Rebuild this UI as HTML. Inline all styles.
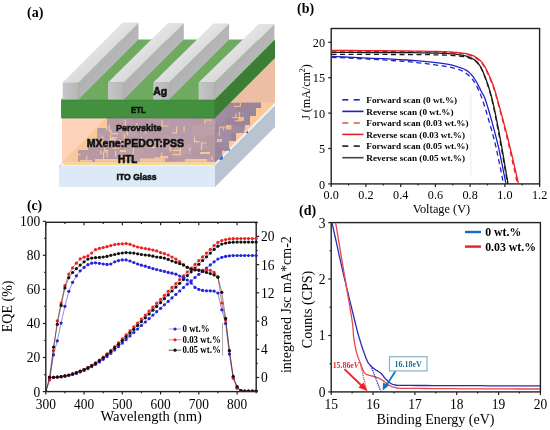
<!DOCTYPE html>
<html><head><meta charset="utf-8"><style>
html,body{margin:0;padding:0;background:#fff;}
svg{display:block;}
</style></head><body>
<svg width="550" height="430" viewBox="0 0 550 430">
<rect width="550" height="430" fill="#fff"/>
<polygon points="59.0,166.0 215.0,166.0 275.0,106.0 119.0,106.0" fill="#eef2f6" />
<polygon points="59.0,166.0 215.0,166.0 215.0,187.0 59.0,187.0" fill="#dce9f6" />
<line x1="59" y1="166.6" x2="64.5" y2="161.6" stroke="#777" stroke-width="0.6" stroke-dasharray="1 0.8"/>
<polygon points="215.0,165.0 275.0,105.0 275.0,127.0 215.0,187.0" fill="#b9c3d1" />
<polygon points="64.0,162.4 215.0,162.4 215.0,165.0 64.0,165.0" fill="#f4dc92" />
<polygon points="215.0,163.8 275.0,103.8 275.0,105.5 215.0,165.5" fill="#f2f2ee" />
<polygon points="62.0,118.0 215.0,118.0 275.0,58.0 275.0,102.5 215.0,162.5 62.0,162.5" fill="#fdd3bb" />
<polygon points="62.0,162.5 215.0,162.5 275.0,102.5 122.0,102.5" fill="#f8c999" />
<clipPath id="flkF"><polygon points="78.0,161.8 215.0,161.8 215.0,118.0 107.0,118.0 107.0,128.0 97.5,128.0 97.5,139.0 88.0,139.0 88.0,150.0 78.0,150.0"/></clipPath>
<g clip-path="url(#flkF)">
<rect x="60" y="95" width="230" height="75" fill="#b89ba8"/>
<rect x="162.2" y="147.6" width="20.4" height="12.8" fill="#ba9ca7"/>
<rect x="192.6" y="149.2" width="16.0" height="9.2" fill="#b497a3"/>
<rect x="90.8" y="134.5" width="16.0" height="11.2" fill="#b497a3"/>
<rect x="76.8" y="122.4" width="16.2" height="12.7" fill="#b698a4"/>
<rect x="97.3" y="150.3" width="15.1" height="11.5" fill="#b497a3"/>
<rect x="93.5" y="158.7" width="14.0" height="12.1" fill="#b497a3"/>
<rect x="197.1" y="125.9" width="21.7" height="11.2" fill="#b497a3"/>
<rect x="100.4" y="158.5" width="15.6" height="12.9" fill="#b698a4"/>
<rect x="116.8" y="129.3" width="15.3" height="9.6" fill="#ba9ca7"/>
<rect x="121.5" y="151.2" width="18.7" height="11.4" fill="#bd9fa9"/>
<rect x="84.2" y="129.1" width="16.4" height="11.8" fill="#b497a3"/>
<rect x="142.4" y="145.8" width="14.5" height="12.9" fill="#ba9ca7"/>
<rect x="207.9" y="129.2" width="17.2" height="11.2" fill="#b698a4"/>
<rect x="126.3" y="139.8" width="14.1" height="9.2" fill="#b497a3"/>
<rect x="162.3" y="157.8" width="15.0" height="10.0" fill="#b698a4"/>
<rect x="123.2" y="129.0" width="18.2" height="12.1" fill="#ba9ca7"/>
<rect x="157.6" y="149.5" width="16.9" height="10.2" fill="#b698a4"/>
<rect x="207.4" y="116.4" width="16.7" height="11.4" fill="#b497a3"/>
<rect x="122.6" y="156.4" width="18.4" height="10.2" fill="#bd9fa9"/>
<rect x="117.9" y="150.3" width="19.0" height="11.9" fill="#bd9fa9"/>
<rect x="214.5" y="119.8" width="14.4" height="12.9" fill="#b698a4"/>
<rect x="79.5" y="147.5" width="16.8" height="10.0" fill="#b698a4"/>
<rect x="95.4" y="159.0" width="19.1" height="12.2" fill="#bd9fa9"/>
<rect x="192.4" y="118.3" width="19.9" height="12.8" fill="#b698a4"/>
<rect x="89.9" y="132.9" width="15.2" height="12.4" fill="#bd9fa9"/>
<rect x="94.8" y="156.3" width="19.0" height="9.7" fill="#b698a4"/>
<rect x="209.4" y="145.1" width="16.5" height="10.1" fill="#b698a4"/>
<rect x="131.5" y="119.0" width="17.0" height="13.0" fill="#b497a3"/>
<rect x="162.8" y="136.0" width="16.7" height="9.4" fill="#bd9fa9"/>
<rect x="147.1" y="138.3" width="18.0" height="9.3" fill="#bd9fa9"/>
<rect x="172.2" y="143.9" width="20.1" height="10.5" fill="#bd9fa9"/>
<rect x="191.9" y="124.7" width="21.8" height="11.9" fill="#bd9fa9"/>
<rect x="166.0" y="139.9" width="14.1" height="11.2" fill="#bd9fa9"/>
<rect x="120.6" y="125.1" width="16.3" height="11.0" fill="#bd9fa9"/>
<rect x="123.7" y="142.9" width="19.9" height="12.3" fill="#bd9fa9"/>
<rect x="204.1" y="120.3" width="20.9" height="10.8" fill="#bd9fa9"/>
<rect x="208.9" y="136.9" width="18.2" height="9.7" fill="#bd9fa9"/>
<rect x="206.2" y="134.9" width="19.5" height="11.9" fill="#b698a4"/>
<rect x="99.1" y="149.5" width="18.6" height="11.7" fill="#b698a4"/>
<rect x="117.4" y="138.6" width="20.9" height="10.1" fill="#ba9ca7"/>
<rect x="95.0" y="159.0" width="30.0" height="3.0" fill="#f3c896"/>
<rect x="140.0" y="158.5" width="25.0" height="3.5" fill="#f3c896"/>
<rect x="185.0" y="159.0" width="22.0" height="3.0" fill="#f3c896"/>
<rect x="80.0" y="160.0" width="12.0" height="2.0" fill="#f3c896"/>
<rect x="120.0" y="150.0" width="6.0" height="2.0" fill="#f3c896"/>
<rect x="160.0" y="156.0" width="8.0" height="2.5" fill="#f3c896"/>
<rect x="200.0" y="152.0" width="10.0" height="2.0" fill="#f3c896"/>
<path d="M102.4,140.1 v-3.7" fill="none" stroke="#f3c896" stroke-width="1.2"/>
<path d="M212.2,120.0 h-7.5 v3.4" fill="none" stroke="#f3c896" stroke-width="1.2"/>
<path d="M80.0,134.3 v-5.4" fill="none" stroke="#f3c896" stroke-width="1.2"/>
<path d="M127.4,128.8 v6.4" fill="none" stroke="#f3c896" stroke-width="1.2"/>
<path d="M152.0,126.5 v5.1" fill="none" stroke="#f3c896" stroke-width="1.2"/>
<path d="M133.7,151.0 v-4.5" fill="none" stroke="#f3c896" stroke-width="1.2"/>
<path d="M153.9,157.9 h7.8 v-5.4" fill="none" stroke="#f3c896" stroke-width="1.2"/>
<path d="M120.6,156.0 h5.7 v4.3" fill="none" stroke="#f3c896" stroke-width="1.2"/>
<path d="M106.7,126.0 v4.5" fill="none" stroke="#f3c896" stroke-width="1.2"/>
<path d="M117.1,124.1 v6.8" fill="none" stroke="#f3c896" stroke-width="1.2"/>
<path d="M95.1,113.1 h-6.3 v6.8" fill="none" stroke="#f3c896" stroke-width="1.2"/>
<path d="M94.1,130.8 v5.2" fill="none" stroke="#f3c896" stroke-width="1.2"/>
<path d="M109.4,124.8 v7.0" fill="none" stroke="#f3c896" stroke-width="1.2"/>
<path d="M141.4,143.0 v-6.0" fill="none" stroke="#f3c896" stroke-width="1.2"/>
<path d="M117.1,137.6 h-4.7 v4.2" fill="none" stroke="#f3c896" stroke-width="1.2"/>
<path d="M170.4,151.0 v-3.0" fill="none" stroke="#f3c896" stroke-width="1.2"/>
<path d="M151.4,112.7 h6.9 v4.7" fill="none" stroke="#f3c896" stroke-width="1.2"/>
<path d="M170.5,146.5 v4.9" fill="none" stroke="#f3c896" stroke-width="1.2"/>
<path d="M172.2,132.8 h4.4 v-6.1" fill="none" stroke="#f3c896" stroke-width="1.2"/>
<path d="M172.3,154.7 h7.9 v-5.2" fill="none" stroke="#f3c896" stroke-width="1.2"/>
<path d="M107.2,151.3 v5.7" fill="none" stroke="#f3c896" stroke-width="1.2"/>
<path d="M212.0,159.9 v-3.2" fill="none" stroke="#f3c896" stroke-width="1.2"/>
<path d="M190.4,117.3 h7.5 v-7.0" fill="none" stroke="#f3c896" stroke-width="1.2"/>
<path d="M100.9,150.5 v3.9" fill="none" stroke="#f3c896" stroke-width="1.2"/>
<path d="M114.2,139.4 h-3.6 v-4.6" fill="none" stroke="#f3c896" stroke-width="1.2"/>
<path d="M119.0,140.8 h5.4 v-6.8" fill="none" stroke="#f3c896" stroke-width="1.2"/>
<path d="M116.3,139.3 h-6.4 v4.2" fill="none" stroke="#f3c896" stroke-width="1.2"/>
<path d="M108.0,152.0 h-4.4 v6.9" fill="none" stroke="#f3c896" stroke-width="1.2"/>
<path d="M129.4,118.3 v-4.4" fill="none" stroke="#f3c896" stroke-width="1.2"/>
<path d="M145.9,133.8 v-4.9" fill="none" stroke="#f3c896" stroke-width="1.2"/>
<path d="M79.1,146.8 v-3.6" fill="none" stroke="#f3c896" stroke-width="1.2"/>
<path d="M86.7,155.7 v3.8" fill="none" stroke="#f3c896" stroke-width="1.2"/>
<path d="M115.6,156.7 v-6.2" fill="none" stroke="#f3c896" stroke-width="1.2"/>
<path d="M125.2,126.2 v-6.8" fill="none" stroke="#f3c896" stroke-width="1.2"/>
<path d="M155.3,147.5 h-5.0 v-3.4" fill="none" stroke="#f3c896" stroke-width="1.2"/>
<path d="M80.5,154.7 h-5.4 v6.0" fill="none" stroke="#f3c896" stroke-width="1.2"/>
<path d="M199.6,141.7 h-5.1 v-4.9" fill="none" stroke="#f3c896" stroke-width="1.2"/>
<path d="M97.3,130.0 h-4.9 v6.5" fill="none" stroke="#f3c896" stroke-width="1.2"/>
<path d="M189.6,148.0 v3.1" fill="none" stroke="#f3c896" stroke-width="1.2"/>
<path d="M126.7,157.0 h6.4 v-5.7" fill="none" stroke="#f3c896" stroke-width="1.2"/>
<path d="M168.6,126.0 h-6.4 v-5.9" fill="none" stroke="#f3c896" stroke-width="1.2"/>
<path d="M78.5,123.1 h3.4 v4.6" fill="none" stroke="#f3c896" stroke-width="1.2"/>
<path d="M125.6,115.2 v-4.9" fill="none" stroke="#f3c896" stroke-width="1.2"/>
<path d="M206.7,143.0 h-5.2 v6.9" fill="none" stroke="#f3c896" stroke-width="1.2"/>
<path d="M184.1,131.7 v-5.2" fill="none" stroke="#f3c896" stroke-width="1.2"/>
<path d="M108.2,150.6 h-3.5 v-4.9" fill="none" stroke="#f3c896" stroke-width="1.2"/>
<path d="M184.4,114.3 v-4.8" fill="none" stroke="#f3c896" stroke-width="1.2"/>
<path d="M102.2,145.4 v-3.8" fill="none" stroke="#f3c896" stroke-width="1.2"/>
<path d="M185.7,116.2 v-3.6" fill="none" stroke="#f3c896" stroke-width="1.2"/>
<path d="M136.8,129.2 v-6.1" fill="none" stroke="#f3c896" stroke-width="1.2"/>
<path d="M118.1,133.6 h-7.1 v-3.9" fill="none" stroke="#f3c896" stroke-width="1.2"/>
<path d="M87.3,149.1 h-7.1 v-4.3" fill="none" stroke="#f3c896" stroke-width="1.2"/>
<path d="M172.6,150.3 h7.8 v-5.7" fill="none" stroke="#f3c896" stroke-width="1.2"/>
<path d="M109.8,145.8 h-7.0 v-6.5" fill="none" stroke="#f3c896" stroke-width="1.2"/>
<path d="M119.0,148.1 h-5.8 v-6.6" fill="none" stroke="#f3c896" stroke-width="1.2"/>
</g>
<clipPath id="sfc"><polygon points="215.0,118.0 275.0,58.0 275.0,102.5 215.0,162.5"/></clipPath>
<g clip-path="url(#sfc)">
<clipPath id="flkS"><polygon points="213.0,165.0 222.0,165.0 222.0,150.5 229.0,150.5 229.0,141.0 236.0,141.0 236.0,133.0 245.0,133.0 245.0,125.0 250.0,125.0 250.0,116.0 256.0,116.0 256.0,108.0 261.0,108.0 261.0,102.5 230.0,102.5 213.0,102.5"/></clipPath>
<g clip-path="url(#flkS)">
<rect x="60" y="95" width="230" height="75" fill="#9d889f"/>
<rect x="231.4" y="121.1" width="15.1" height="12.5" fill="#a08aa2"/>
<rect x="224.3" y="126.8" width="18.8" height="10.3" fill="#a08aa2"/>
<rect x="246.5" y="108.5" width="21.6" height="12.8" fill="#9a859d"/>
<rect x="214.0" y="112.8" width="14.9" height="11.0" fill="#a08aa2"/>
<rect x="249.1" y="121.8" width="20.0" height="9.4" fill="#a38da4"/>
<rect x="216.7" y="111.9" width="20.3" height="12.6" fill="#a38da4"/>
<rect x="256.9" y="122.6" width="16.7" height="9.2" fill="#a08aa2"/>
<rect x="255.1" y="101.4" width="17.0" height="11.0" fill="#a08aa2"/>
<rect x="218.5" y="143.6" width="20.8" height="12.9" fill="#a08aa2"/>
<rect x="211.9" y="133.9" width="21.2" height="9.8" fill="#a08aa2"/>
<rect x="255.9" y="106.3" width="21.3" height="11.0" fill="#9a859d"/>
<rect x="235.6" y="110.3" width="14.6" height="9.8" fill="#a08aa2"/>
<rect x="244.9" y="107.0" width="21.5" height="11.9" fill="#a08aa2"/>
<rect x="208.1" y="132.4" width="18.9" height="9.6" fill="#a38da4"/>
<rect x="247.0" y="133.7" width="14.3" height="12.5" fill="#9a859d"/>
<rect x="259.2" y="112.7" width="18.9" height="9.2" fill="#a38da4"/>
<rect x="253.2" y="130.4" width="18.5" height="11.8" fill="#a38da4"/>
<rect x="211.3" y="152.7" width="16.9" height="9.8" fill="#98839b"/>
<rect x="261.2" y="133.6" width="14.1" height="12.2" fill="#a38da4"/>
<rect x="205.0" y="104.9" width="15.8" height="10.1" fill="#a08aa2"/>
<rect x="222.5" y="115.7" width="18.1" height="9.2" fill="#9a859d"/>
<rect x="249.5" y="148.1" width="18.0" height="11.8" fill="#98839b"/>
<rect x="237.3" y="102.1" width="19.2" height="9.4" fill="#9a859d"/>
<rect x="234.1" y="157.3" width="18.5" height="9.6" fill="#a38da4"/>
<rect x="214.8" y="150.3" width="16.1" height="9.2" fill="#98839b"/>
<rect x="220.0" y="108.2" width="15.0" height="9.6" fill="#a08aa2"/>
<rect x="208.5" y="110.9" width="17.1" height="11.4" fill="#a38da4"/>
<rect x="221.2" y="127.8" width="16.2" height="12.8" fill="#a38da4"/>
<rect x="244.7" y="102.1" width="17.6" height="11.8" fill="#9a859d"/>
<rect x="238.5" y="147.8" width="19.3" height="10.1" fill="#9a859d"/>
<rect x="224.9" y="155.2" width="16.2" height="9.5" fill="#a08aa2"/>
<rect x="214.2" y="147.0" width="20.9" height="9.8" fill="#9a859d"/>
<rect x="231.0" y="132.7" width="17.1" height="9.7" fill="#9a859d"/>
<rect x="238.8" y="114.3" width="14.5" height="11.6" fill="#9a859d"/>
<rect x="236.0" y="130.5" width="18.3" height="12.6" fill="#a08aa2"/>
<rect x="255.0" y="133.6" width="21.6" height="9.3" fill="#98839b"/>
<rect x="246.1" y="104.4" width="19.6" height="10.8" fill="#9a859d"/>
<rect x="255.7" y="143.1" width="19.4" height="9.1" fill="#98839b"/>
<rect x="255.1" y="112.3" width="20.6" height="11.9" fill="#9a859d"/>
<rect x="254.9" y="100.2" width="18.8" height="11.5" fill="#9a859d"/>
<rect x="225.8" y="125.0" width="5.6" height="4.6" fill="#eebb84"/>
<rect x="238.0" y="117.0" width="6.0" height="4.0" fill="#eebb84"/>
<rect x="217.0" y="139.0" width="5.0" height="3.0" fill="#eebb84"/>
<path d="M228.2,102.3 h-3.9 v-5.4" fill="none" stroke="#eebb84" stroke-width="1.2"/>
<path d="M225.2,127.2 h-5.7 v3.1" fill="none" stroke="#eebb84" stroke-width="1.2"/>
<path d="M223.3,126.8 v3.6" fill="none" stroke="#eebb84" stroke-width="1.2"/>
<path d="M211.1,119.6 h-4.2 v-6.1" fill="none" stroke="#eebb84" stroke-width="1.2"/>
<path d="M208.0,102.6 h-6.2 v-3.3" fill="none" stroke="#eebb84" stroke-width="1.2"/>
<path d="M234.8,120.9 h6.2 v-3.9" fill="none" stroke="#eebb84" stroke-width="1.2"/>
<path d="M219.4,135.9 v-5.1" fill="none" stroke="#eebb84" stroke-width="1.2"/>
<path d="M232.1,117.5 h7.4 v-5.6" fill="none" stroke="#eebb84" stroke-width="1.2"/>
<path d="M250.6,158.5 v6.6" fill="none" stroke="#eebb84" stroke-width="1.2"/>
<path d="M210.4,117.7 v5.4" fill="none" stroke="#eebb84" stroke-width="1.2"/>
<path d="M255.9,124.7 h3.4 v4.2" fill="none" stroke="#eebb84" stroke-width="1.2"/>
<path d="M215.6,122.9 h-4.6 v-3.7" fill="none" stroke="#eebb84" stroke-width="1.2"/>
<path d="M225.8,153.6 h7.7 v3.3" fill="none" stroke="#eebb84" stroke-width="1.2"/>
<path d="M235.9,118.8 v-5.2" fill="none" stroke="#eebb84" stroke-width="1.2"/>
<path d="M223.5,149.7 v3.4" fill="none" stroke="#eebb84" stroke-width="1.2"/>
<path d="M216.7,111.9 h-7.9 v-4.3" fill="none" stroke="#eebb84" stroke-width="1.2"/>
<path d="M244.5,129.6 v4.6" fill="none" stroke="#eebb84" stroke-width="1.2"/>
<path d="M233.9,106.4 h6.5 v-4.4" fill="none" stroke="#eebb84" stroke-width="1.2"/>
</g>
</g>
<polygon points="215.0,118.0 275.0,58.0 275.0,102.5 230.5,102.5" fill="#ecbfa4" />
<polygon points="218.6,159.6 222.8,155.2 222.6,159.8" fill="#1a64c8"/>
<polygon points="227.4,150.6 229.8,148.2 229.8,150.8" fill="#1a64c8"/>
<polygon points="245.5,133 247.9,130.6 247.9,133.2" fill="#1a64c8"/>
<polygon points="61.5,99.5 215.0,99.5 275.0,39.5 121.5,39.5" fill="#6eab60" />
<polygon points="61.5,99.8 215.0,99.8 215.0,118.0 61.5,118.0" fill="#43903f" stroke="#34783a" stroke-width="0.7"/>
<polygon points="215.0,99.5 275.0,39.5 275.0,58.0 215.0,118.0" fill="#3a7d33" />
<linearGradient id="gtop" x1="0" y1="0" x2="1" y2="1"><stop offset="0.2" stop-color="#f0f0f0"/><stop offset="0.8" stop-color="#cdcdcd"/></linearGradient>
<linearGradient id="gside" x1="0" y1="0" x2="1" y2="1"><stop offset="0.2" stop-color="#a9a9a9"/><stop offset="0.8" stop-color="#c0c0c0"/></linearGradient>
<linearGradient id="gfront" x1="0" y1="0" x2="1" y2="0"><stop offset="0" stop-color="#c6c6c6"/><stop offset="1" stop-color="#b6b6b6"/></linearGradient>
<polygon points="78.5,82.4 138.5,22.4 138.5,39.5 78.5,99.5" fill="url(#gside)" />
<polygon points="62.7,82.4 78.5,82.4 138.5,22.4 122.7,22.4" fill="url(#gtop)" />
<polygon points="62.7,82.4 78.5,82.4 78.5,99.5 62.7,99.5" fill="url(#gfront)" />
<polygon points="123.8,82.4 183.8,23.0 183.8,39.5 123.8,99.5" fill="url(#gside)" />
<polygon points="108.0,82.4 123.8,82.4 183.8,23.0 168.0,23.0" fill="url(#gtop)" />
<polygon points="108.0,82.4 123.8,82.4 123.8,99.5 108.0,99.5" fill="url(#gfront)" />
<polygon points="169.1,82.4 229.1,23.5 229.1,39.5 169.1,99.5" fill="url(#gside)" />
<polygon points="153.3,82.4 169.1,82.4 229.1,23.5 213.3,23.5" fill="url(#gtop)" />
<polygon points="153.3,82.4 169.1,82.4 169.1,99.5 153.3,99.5" fill="url(#gfront)" />
<polygon points="214.4,82.4 274.4,24.1 274.4,39.5 214.4,99.5" fill="url(#gside)" />
<polygon points="198.6,82.4 214.4,82.4 274.4,24.1 258.6,24.1" fill="url(#gtop)" />
<polygon points="198.6,82.4 214.4,82.4 214.4,99.5 198.6,99.5" fill="url(#gfront)" />
<text x="27" y="17" font-family="'Liberation Serif',serif" font-weight="bold" font-size="14">(a)</text>
<text x="153.2" y="94.5" font-family="'Liberation Sans',sans-serif" font-weight="bold" stroke="#111" stroke-width="0.55" fill="#111" font-size="11" textLength="14" lengthAdjust="spacingAndGlyphs">Ag</text>
<text x="131" y="112.7" font-family="'Liberation Sans',sans-serif" font-weight="bold" stroke="#111" stroke-width="0.6" fill="#111" font-size="9.3" textLength="14.6" lengthAdjust="spacingAndGlyphs">ETL</text>
<text x="116" y="130.5" font-family="'Liberation Sans',sans-serif" font-weight="bold" stroke="#111" stroke-width="0.55" fill="#111" font-size="9" textLength="45.5" lengthAdjust="spacingAndGlyphs">Perovskite</text>
<text x="86.7" y="147.3" font-family="'Liberation Sans',sans-serif" font-weight="bold" stroke="#111" stroke-width="0.55" fill="#111" font-size="11" textLength="97.3" lengthAdjust="spacingAndGlyphs">MXene:PEDOT:PSS</text>
<text x="118" y="163.2" font-family="'Liberation Sans',sans-serif" font-weight="bold" stroke="#111" stroke-width="0.55" fill="#111" font-size="10" textLength="19.2" lengthAdjust="spacingAndGlyphs">HTL</text>
<text x="116.6" y="180.4" font-family="'Liberation Sans',sans-serif" font-weight="bold" stroke="#111" stroke-width="0.55" fill="#111" font-size="9" textLength="40" lengthAdjust="spacingAndGlyphs">ITO Glass</text>
<rect x="331.2" y="28.5" width="208.4" height="155.4" fill="none" stroke="#222" stroke-width="1.4"/>
<line x1="331.2" y1="183.9" x2="331.2" y2="186.9" stroke="#222" stroke-width="1.2"/>
<line x1="348.6" y1="183.9" x2="348.6" y2="185.5" stroke="#222" stroke-width="1.2"/>
<line x1="365.9" y1="183.9" x2="365.9" y2="186.9" stroke="#222" stroke-width="1.2"/>
<line x1="383.3" y1="183.9" x2="383.3" y2="185.5" stroke="#222" stroke-width="1.2"/>
<line x1="400.7" y1="183.9" x2="400.7" y2="186.9" stroke="#222" stroke-width="1.2"/>
<line x1="418.0" y1="183.9" x2="418.0" y2="185.5" stroke="#222" stroke-width="1.2"/>
<line x1="435.4" y1="183.9" x2="435.4" y2="186.9" stroke="#222" stroke-width="1.2"/>
<line x1="452.8" y1="183.9" x2="452.8" y2="185.5" stroke="#222" stroke-width="1.2"/>
<line x1="470.1" y1="183.9" x2="470.1" y2="186.9" stroke="#222" stroke-width="1.2"/>
<line x1="487.5" y1="183.9" x2="487.5" y2="185.5" stroke="#222" stroke-width="1.2"/>
<line x1="504.9" y1="183.9" x2="504.9" y2="186.9" stroke="#222" stroke-width="1.2"/>
<line x1="522.2" y1="183.9" x2="522.2" y2="185.5" stroke="#222" stroke-width="1.2"/>
<line x1="539.6" y1="183.9" x2="539.6" y2="186.9" stroke="#222" stroke-width="1.2"/>
<line x1="331.2" y1="183.9" x2="328.2" y2="183.9" stroke="#222" stroke-width="1.2"/>
<line x1="331.2" y1="148.5" x2="328.2" y2="148.5" stroke="#222" stroke-width="1.2"/>
<line x1="331.2" y1="113.1" x2="328.2" y2="113.1" stroke="#222" stroke-width="1.2"/>
<line x1="331.2" y1="77.7" x2="328.2" y2="77.7" stroke="#222" stroke-width="1.2"/>
<line x1="331.2" y1="42.3" x2="328.2" y2="42.3" stroke="#222" stroke-width="1.2"/>
<text transform="translate(331.20,198.80) scale(1,1.100)" font-family="'Liberation Serif',serif" font-size="12.20" text-anchor="middle" >0.0</text>
<text transform="translate(365.93,198.80) scale(1,1.100)" font-family="'Liberation Serif',serif" font-size="12.20" text-anchor="middle" >0.2</text>
<text transform="translate(400.67,198.80) scale(1,1.100)" font-family="'Liberation Serif',serif" font-size="12.20" text-anchor="middle" >0.4</text>
<text transform="translate(435.40,198.80) scale(1,1.100)" font-family="'Liberation Serif',serif" font-size="12.20" text-anchor="middle" >0.6</text>
<text transform="translate(470.13,198.80) scale(1,1.100)" font-family="'Liberation Serif',serif" font-size="12.20" text-anchor="middle" >0.8</text>
<text transform="translate(504.87,198.80) scale(1,1.100)" font-family="'Liberation Serif',serif" font-size="12.20" text-anchor="middle" >1.0</text>
<text transform="translate(539.60,198.80) scale(1,1.100)" font-family="'Liberation Serif',serif" font-size="12.20" text-anchor="middle" >1.2</text>
<text transform="translate(325.00,188.50) scale(1,1.100)" font-family="'Liberation Serif',serif" font-size="12.20" text-anchor="end" >0</text>
<text transform="translate(325.00,153.10) scale(1,1.100)" font-family="'Liberation Serif',serif" font-size="12.20" text-anchor="end" >5</text>
<text transform="translate(325.00,117.70) scale(1,1.100)" font-family="'Liberation Serif',serif" font-size="12.20" text-anchor="end" >10</text>
<text transform="translate(325.00,82.30) scale(1,1.100)" font-family="'Liberation Serif',serif" font-size="12.20" text-anchor="end" >15</text>
<text transform="translate(325.00,46.91) scale(1,1.100)" font-family="'Liberation Serif',serif" font-size="12.20" text-anchor="end" >20</text>
<text x="441.4" y="213" font-family="'Liberation Serif',serif" font-size="12.3" text-anchor="middle">Voltage (V)</text>
<text transform="translate(309.5,92) rotate(-90)" font-family="'Liberation Serif',serif" font-size="12" text-anchor="middle">J (mA/cm<tspan dy="-4.5" font-size="8">2</tspan><tspan dy="4.5">)</tspan></text>
<text x="297" y="13.2" font-family="'Liberation Serif',serif" font-weight="bold" font-size="14">(b)</text>
<clipPath id="cb"><rect x="331.2" y="28.5" width="208.4" height="156.4"/></clipPath>
<g clip-path="url(#cb)" fill="none" stroke-width="1.3">
<path d="M331.5,50.3 L337.0,50.3 L344.4,50.4 L353.3,50.5 L363.1,50.6 L373.2,50.6 L383.1,50.7 L392.2,50.8 L400.0,50.9 L406.7,51.0 L412.9,51.1 L418.7,51.1 L424.2,51.2 L429.2,51.3 L433.8,51.4 L438.1,51.5 L442.0,51.6 L445.5,51.7 L448.4,51.9 L450.9,52.0 L453.0,52.2 L454.9,52.4 L456.6,52.5 L458.3,52.7 L460.0,52.9 L461.6,53.1 L463.1,53.2 L464.4,53.4 L465.5,53.5 L466.6,53.7 L467.7,53.9 L468.7,54.2 L469.8,54.5 L470.9,54.9 L472.0,55.3 L473.0,55.7 L474.1,56.2 L475.1,56.7 L476.0,57.3 L477.0,57.9 L477.9,58.6 L478.8,59.3 L479.6,60.0 L480.4,60.6 L481.1,61.4 L481.9,62.2 L482.7,63.3 L483.5,64.5 L484.4,65.9 L485.4,67.6 L486.4,69.6 L487.5,71.8 L488.6,74.2 L489.7,76.6 L490.7,79.1 L491.7,81.5 L492.6,83.8 L493.4,85.9 L494.0,87.7 L494.6,89.5 L495.1,91.2 L495.7,93.2 L496.3,95.5 L497.1,98.2 L498.0,101.5 L499.1,105.4 L500.3,109.9 L501.7,114.9 L503.1,120.1 L504.5,125.6 L506.0,131.1 L507.4,136.5 L508.7,141.8 L510.0,147.3 L511.4,153.2 L512.9,159.3 L514.3,165.4 L515.6,171.1 L516.8,176.3 L517.8,180.6 L518.5,183.9" stroke="#e8202a"/>
<path d="M331.5,51.0 L337.0,51.0 L344.4,51.1 L353.3,51.1 L363.1,51.2 L373.2,51.3 L383.1,51.3 L392.2,51.4 L400.0,51.5 L406.7,51.6 L412.9,51.6 L418.7,51.7 L424.2,51.8 L429.2,51.9 L433.8,52.0 L438.1,52.1 L442.0,52.2 L445.5,52.3 L448.4,52.5 L450.9,52.6 L453.0,52.8 L454.9,53.0 L456.6,53.1 L458.3,53.3 L460.0,53.5 L461.6,53.7 L463.1,53.8 L464.4,54.0 L465.5,54.2 L466.6,54.4 L467.7,54.6 L468.7,54.9 L469.8,55.2 L470.9,55.6 L472.0,56.0 L473.0,56.5 L474.1,57.0 L475.1,57.5 L476.0,58.1 L477.0,58.8 L477.9,59.5 L478.8,60.2 L479.6,60.9 L480.4,61.6 L481.1,62.4 L481.9,63.3 L482.7,64.3 L483.5,65.5 L484.4,67.0 L485.4,68.7 L486.4,70.8 L487.5,73.0 L488.6,75.3 L489.7,77.8 L490.7,80.3 L491.7,82.7 L492.6,85.0 L493.4,87.1 L494.0,89.0 L494.6,90.8 L495.2,92.7 L495.8,94.7 L496.4,97.0 L497.1,99.8 L498.0,103.0 L499.0,106.8 L500.2,111.2 L501.4,115.9 L502.7,120.9 L504.1,126.1 L505.4,131.4 L506.7,136.6 L508.0,141.8 L509.3,147.2 L510.6,153.1 L512.0,159.2 L513.4,165.3 L514.7,171.1 L515.8,176.3 L516.8,180.6 L517.5,183.9" stroke="#e8202a" stroke-dasharray="5 3.5"/>
<path d="M331.5,54.3 L337.0,54.3 L344.4,54.3 L353.3,54.3 L363.1,54.4 L373.2,54.4 L383.1,54.4 L392.2,54.5 L400.0,54.5 L406.7,54.5 L412.9,54.6 L418.7,54.6 L424.2,54.7 L429.2,54.7 L433.8,54.8 L438.1,54.9 L442.0,55.0 L445.5,55.1 L448.4,55.2 L450.9,55.4 L453.0,55.5 L454.9,55.7 L456.6,55.8 L458.3,56.0 L460.0,56.2 L461.6,56.4 L463.1,56.6 L464.4,56.7 L465.5,56.9 L466.6,57.2 L467.7,57.4 L468.7,57.8 L469.8,58.2 L470.9,58.7 L472.0,59.1 L473.0,59.6 L474.1,60.2 L475.1,60.9 L476.0,61.6 L477.0,62.5 L477.9,63.5 L478.8,64.6 L479.6,65.8 L480.4,67.0 L481.2,68.4 L482.0,69.9 L482.7,71.6 L483.5,73.5 L484.4,75.7 L485.3,78.0 L486.2,80.5 L487.1,83.2 L488.1,86.0 L489.1,89.1 L490.0,92.4 L491.0,96.0 L492.0,100.0 L493.0,104.4 L494.0,109.2 L495.1,114.4 L496.2,119.8 L497.2,125.3 L498.3,130.9 L499.3,136.4 L500.3,141.8 L501.3,147.3 L502.4,153.3 L503.4,159.4 L504.5,165.5 L505.4,171.2 L506.3,176.3 L507.0,180.7 L507.6,183.9" stroke="#1a1a1a" stroke-dasharray="5 3.5"/>
<path d="M331.5,52.4 L337.0,52.4 L344.4,52.4 L353.3,52.4 L363.1,52.5 L373.2,52.5 L383.1,52.5 L392.2,52.5 L400.0,52.6 L406.7,52.7 L412.9,52.7 L418.7,52.8 L424.2,52.9 L429.2,53.0 L433.8,53.1 L438.1,53.2 L442.0,53.3 L445.5,53.4 L448.4,53.6 L450.9,53.8 L453.0,53.9 L454.9,54.1 L456.6,54.3 L458.3,54.6 L460.0,54.8 L461.6,55.1 L463.1,55.3 L464.4,55.6 L465.5,55.8 L466.6,56.2 L467.7,56.5 L468.7,56.9 L469.8,57.4 L470.9,57.9 L472.0,58.4 L473.0,59.0 L474.1,59.6 L475.1,60.3 L476.0,61.1 L477.0,62.0 L477.9,63.0 L478.8,64.1 L479.6,65.3 L480.4,66.5 L481.2,67.9 L481.9,69.4 L482.7,71.1 L483.5,73.0 L484.4,75.2 L485.3,77.6 L486.3,80.1 L487.2,82.8 L488.2,85.8 L489.2,88.9 L490.2,92.3 L491.3,96.0 L492.3,100.0 L493.3,104.4 L494.4,109.2 L495.5,114.4 L496.6,119.8 L497.7,125.4 L498.8,130.9 L499.8,136.4 L500.8,141.8 L501.8,147.3 L502.9,153.3 L503.9,159.4 L504.9,165.5 L505.9,171.2 L506.7,176.3 L507.5,180.7 L508.0,183.9" stroke="#1a1a1a"/>
<path d="M331.5,57.3 L337.0,57.6 L344.4,57.9 L353.3,58.4 L363.1,58.8 L373.2,59.4 L383.1,59.9 L392.2,60.5 L400.0,61.0 L406.7,61.6 L412.9,62.2 L418.7,62.8 L424.2,63.4 L429.2,64.1 L433.8,64.7 L438.1,65.3 L442.0,65.9 L445.5,66.4 L448.4,66.9 L450.9,67.4 L453.0,67.9 L454.9,68.3 L456.6,68.8 L458.3,69.4 L460.0,70.0 L461.6,70.7 L463.1,71.4 L464.4,72.2 L465.6,72.9 L466.7,73.8 L467.8,74.6 L468.8,75.6 L469.8,76.5 L470.8,77.5 L471.6,78.4 L472.5,79.4 L473.2,80.4 L474.0,81.5 L474.7,82.7 L475.5,84.0 L476.3,85.5 L477.1,87.0 L477.9,88.6 L478.7,90.1 L479.4,91.8 L480.3,93.8 L481.1,96.1 L482.1,98.8 L483.2,102.0 L484.4,105.8 L485.8,110.3 L487.3,115.1 L488.8,120.3 L490.4,125.7 L491.9,131.1 L493.4,136.6 L494.7,141.8 L496.0,147.2 L497.3,153.2 L498.6,159.3 L499.8,165.3 L501.0,171.1 L502.0,176.3 L502.8,180.6 L503.5,183.9" stroke="#1f22c8" stroke-dasharray="5 3.5"/>
<path d="M331.5,56.5 L337.0,56.7 L344.4,57.0 L353.3,57.4 L363.1,57.8 L373.2,58.3 L383.1,58.7 L392.2,59.2 L400.0,59.6 L406.7,60.0 L412.9,60.5 L418.7,60.9 L424.2,61.4 L429.2,61.8 L433.8,62.3 L438.1,62.8 L442.0,63.3 L445.5,63.8 L448.4,64.3 L450.9,64.9 L453.1,65.4 L455.0,66.0 L456.8,66.5 L458.4,67.1 L460.0,67.6 L461.5,68.1 L462.8,68.5 L463.8,69.0 L464.8,69.4 L465.6,69.9 L466.4,70.4 L467.2,70.9 L468.1,71.6 L469.0,72.3 L469.9,73.1 L470.7,73.9 L471.5,74.8 L472.3,75.7 L473.1,76.7 L473.9,77.8 L474.7,79.0 L475.5,80.3 L476.4,81.7 L477.2,83.3 L478.0,84.9 L478.9,86.5 L479.7,88.1 L480.5,89.7 L481.2,91.2 L481.9,92.5 L482.4,93.4 L483.0,94.3 L483.5,95.2 L484.0,96.3 L484.7,97.7 L485.4,99.8 L486.3,102.5 L487.4,106.1 L488.7,110.3 L490.1,115.1 L491.5,120.2 L493.0,125.6 L494.5,131.1 L495.9,136.6 L497.2,141.8 L498.5,147.2 L499.8,153.1 L501.0,159.2 L502.3,165.3 L503.4,171.1 L504.5,176.3 L505.3,180.6 L506.0,183.9" stroke="#1f22c8"/>
</g>
<line x1="470.8" y1="93" x2="470.8" y2="175" stroke="#e4e4e4" stroke-width="0.8"/>
<line x1="342.3" y1="99.8" x2="348.3" y2="99.8" stroke="#1f22c8" stroke-width="1.6"/>
<line x1="353.7" y1="99.8" x2="359.8" y2="99.8" stroke="#1f22c8" stroke-width="1.6"/>
<text x="366.3" y="103.1" font-family="'Liberation Serif',serif" font-weight="bold" font-size="9.2">Forward scan (0 wt.%)</text>
<line x1="342.3" y1="111.4" x2="363.5" y2="111.4" stroke="#1f22c8" stroke-width="1.6"/>
<text x="366.3" y="114.7" font-family="'Liberation Serif',serif" font-weight="bold" font-size="9.2">Reverse scan (0 wt.%)</text>
<line x1="342.3" y1="123.0" x2="348.3" y2="123.0" stroke="#e45a5a" stroke-width="1.6"/>
<line x1="353.7" y1="123.0" x2="359.8" y2="123.0" stroke="#e45a5a" stroke-width="1.6"/>
<text x="366.3" y="126.3" font-family="'Liberation Serif',serif" font-weight="bold" font-size="9.2">Forward scan (0.03 wt.%)</text>
<line x1="342.3" y1="134.4" x2="363.5" y2="134.4" stroke="#e8202a" stroke-width="1.6"/>
<text x="366.3" y="137.7" font-family="'Liberation Serif',serif" font-weight="bold" font-size="9.2">Reverse scan (0.03 wt.%)</text>
<line x1="342.3" y1="146.1" x2="348.3" y2="146.1" stroke="#1a1a1a" stroke-width="1.6"/>
<line x1="353.7" y1="146.1" x2="359.8" y2="146.1" stroke="#1a1a1a" stroke-width="1.6"/>
<text x="366.3" y="149.4" font-family="'Liberation Serif',serif" font-weight="bold" font-size="9.2">Forward scan (0.05 wt.%)</text>
<line x1="342.3" y1="157.7" x2="363.5" y2="157.7" stroke="#444" stroke-width="1.6"/>
<text x="366.3" y="161.0" font-family="'Liberation Serif',serif" font-weight="bold" font-size="9.2">Reverse scan (0.05 wt.%)</text>
<rect x="45.8" y="222.3" width="210.4" height="169.3" fill="none" stroke="#222" stroke-width="1.4"/>
<line x1="45.8" y1="391.6" x2="45.8" y2="394.6" stroke="#222" stroke-width="1.2"/>
<line x1="45.8" y1="222.3" x2="45.8" y2="225.3" stroke="#222" stroke-width="1.2"/>
<line x1="64.9" y1="391.6" x2="64.9" y2="393.2" stroke="#222" stroke-width="1.2"/>
<line x1="64.9" y1="222.3" x2="64.9" y2="223.9" stroke="#222" stroke-width="1.2"/>
<line x1="84.1" y1="391.6" x2="84.1" y2="394.6" stroke="#222" stroke-width="1.2"/>
<line x1="84.1" y1="222.3" x2="84.1" y2="225.3" stroke="#222" stroke-width="1.2"/>
<line x1="103.2" y1="391.6" x2="103.2" y2="393.2" stroke="#222" stroke-width="1.2"/>
<line x1="103.2" y1="222.3" x2="103.2" y2="223.9" stroke="#222" stroke-width="1.2"/>
<line x1="122.3" y1="391.6" x2="122.3" y2="394.6" stroke="#222" stroke-width="1.2"/>
<line x1="122.3" y1="222.3" x2="122.3" y2="225.3" stroke="#222" stroke-width="1.2"/>
<line x1="141.4" y1="391.6" x2="141.4" y2="393.2" stroke="#222" stroke-width="1.2"/>
<line x1="141.4" y1="222.3" x2="141.4" y2="223.9" stroke="#222" stroke-width="1.2"/>
<line x1="160.6" y1="391.6" x2="160.6" y2="394.6" stroke="#222" stroke-width="1.2"/>
<line x1="160.6" y1="222.3" x2="160.6" y2="225.3" stroke="#222" stroke-width="1.2"/>
<line x1="179.7" y1="391.6" x2="179.7" y2="393.2" stroke="#222" stroke-width="1.2"/>
<line x1="179.7" y1="222.3" x2="179.7" y2="223.9" stroke="#222" stroke-width="1.2"/>
<line x1="198.8" y1="391.6" x2="198.8" y2="394.6" stroke="#222" stroke-width="1.2"/>
<line x1="198.8" y1="222.3" x2="198.8" y2="225.3" stroke="#222" stroke-width="1.2"/>
<line x1="217.9" y1="391.6" x2="217.9" y2="393.2" stroke="#222" stroke-width="1.2"/>
<line x1="217.9" y1="222.3" x2="217.9" y2="223.9" stroke="#222" stroke-width="1.2"/>
<line x1="237.1" y1="391.6" x2="237.1" y2="394.6" stroke="#222" stroke-width="1.2"/>
<line x1="237.1" y1="222.3" x2="237.1" y2="225.3" stroke="#222" stroke-width="1.2"/>
<line x1="256.2" y1="391.6" x2="256.2" y2="393.2" stroke="#222" stroke-width="1.2"/>
<line x1="256.2" y1="222.3" x2="256.2" y2="223.9" stroke="#222" stroke-width="1.2"/>
<line x1="45.8" y1="391.6" x2="42.8" y2="391.6" stroke="#222" stroke-width="1.2"/>
<line x1="45.8" y1="374.6" x2="44.2" y2="374.6" stroke="#222" stroke-width="1.2"/>
<line x1="45.8" y1="357.5" x2="42.8" y2="357.5" stroke="#222" stroke-width="1.2"/>
<line x1="45.8" y1="340.5" x2="44.2" y2="340.5" stroke="#222" stroke-width="1.2"/>
<line x1="45.8" y1="323.5" x2="42.8" y2="323.5" stroke="#222" stroke-width="1.2"/>
<line x1="45.8" y1="306.4" x2="44.2" y2="306.4" stroke="#222" stroke-width="1.2"/>
<line x1="45.8" y1="289.4" x2="42.8" y2="289.4" stroke="#222" stroke-width="1.2"/>
<line x1="45.8" y1="272.4" x2="44.2" y2="272.4" stroke="#222" stroke-width="1.2"/>
<line x1="45.8" y1="255.3" x2="42.8" y2="255.3" stroke="#222" stroke-width="1.2"/>
<line x1="45.8" y1="238.3" x2="44.2" y2="238.3" stroke="#222" stroke-width="1.2"/>
<line x1="45.8" y1="221.3" x2="42.8" y2="221.3" stroke="#222" stroke-width="1.2"/>
<line x1="256.2" y1="391.6" x2="257.8" y2="391.6" stroke="#222" stroke-width="1.2"/>
<line x1="256.2" y1="377.5" x2="259.2" y2="377.5" stroke="#222" stroke-width="1.2"/>
<line x1="256.2" y1="363.4" x2="257.8" y2="363.4" stroke="#222" stroke-width="1.2"/>
<line x1="256.2" y1="349.3" x2="259.2" y2="349.3" stroke="#222" stroke-width="1.2"/>
<line x1="256.2" y1="335.2" x2="257.8" y2="335.2" stroke="#222" stroke-width="1.2"/>
<line x1="256.2" y1="321.1" x2="259.2" y2="321.1" stroke="#222" stroke-width="1.2"/>
<line x1="256.2" y1="307.0" x2="257.8" y2="307.0" stroke="#222" stroke-width="1.2"/>
<line x1="256.2" y1="292.8" x2="259.2" y2="292.8" stroke="#222" stroke-width="1.2"/>
<line x1="256.2" y1="278.7" x2="257.8" y2="278.7" stroke="#222" stroke-width="1.2"/>
<line x1="256.2" y1="264.6" x2="259.2" y2="264.6" stroke="#222" stroke-width="1.2"/>
<line x1="256.2" y1="250.5" x2="257.8" y2="250.5" stroke="#222" stroke-width="1.2"/>
<line x1="256.2" y1="236.4" x2="259.2" y2="236.4" stroke="#222" stroke-width="1.2"/>
<line x1="256.2" y1="222.3" x2="257.8" y2="222.3" stroke="#222" stroke-width="1.2"/>
<text transform="translate(45.80,408.70) scale(1,1.120)" font-family="'Liberation Serif',serif" font-size="13.40" text-anchor="middle" >300</text>
<text transform="translate(84.05,408.70) scale(1,1.120)" font-family="'Liberation Serif',serif" font-size="13.40" text-anchor="middle" >400</text>
<text transform="translate(122.31,408.70) scale(1,1.120)" font-family="'Liberation Serif',serif" font-size="13.40" text-anchor="middle" >500</text>
<text transform="translate(160.56,408.70) scale(1,1.120)" font-family="'Liberation Serif',serif" font-size="13.40" text-anchor="middle" >600</text>
<text transform="translate(198.82,408.70) scale(1,1.120)" font-family="'Liberation Serif',serif" font-size="13.40" text-anchor="middle" >700</text>
<text transform="translate(237.07,408.70) scale(1,1.120)" font-family="'Liberation Serif',serif" font-size="13.40" text-anchor="middle" >800</text>
<text transform="translate(40.30,396.50) scale(1,1.120)" font-family="'Liberation Serif',serif" font-size="13.50" text-anchor="end" >0</text>
<text transform="translate(40.30,362.44) scale(1,1.120)" font-family="'Liberation Serif',serif" font-size="13.50" text-anchor="end" >20</text>
<text transform="translate(40.30,328.37) scale(1,1.120)" font-family="'Liberation Serif',serif" font-size="13.50" text-anchor="end" >40</text>
<text transform="translate(40.30,294.31) scale(1,1.120)" font-family="'Liberation Serif',serif" font-size="13.50" text-anchor="end" >60</text>
<text transform="translate(40.30,260.24) scale(1,1.120)" font-family="'Liberation Serif',serif" font-size="13.50" text-anchor="end" >80</text>
<text transform="translate(40.30,226.18) scale(1,1.120)" font-family="'Liberation Serif',serif" font-size="13.50" text-anchor="end" >100</text>
<text transform="translate(261.00,382.39) scale(1,1.120)" font-family="'Liberation Serif',serif" font-size="13.50" text-anchor="start" >0</text>
<text transform="translate(261.00,354.18) scale(1,1.120)" font-family="'Liberation Serif',serif" font-size="13.50" text-anchor="start" >4</text>
<text transform="translate(261.00,325.96) scale(1,1.120)" font-family="'Liberation Serif',serif" font-size="13.50" text-anchor="start" >8</text>
<text transform="translate(261.00,297.74) scale(1,1.120)" font-family="'Liberation Serif',serif" font-size="13.50" text-anchor="start" >12</text>
<text transform="translate(261.00,269.52) scale(1,1.120)" font-family="'Liberation Serif',serif" font-size="13.50" text-anchor="start" >16</text>
<text transform="translate(261.00,241.31) scale(1,1.120)" font-family="'Liberation Serif',serif" font-size="13.50" text-anchor="start" >20</text>
<text x="100.5" y="421.4" font-family="'Liberation Serif',serif" font-size="14.6">Wavelength (nm)</text>
<text transform="translate(12.2,306.4) rotate(-90)" font-family="'Liberation Serif',serif" font-size="14" text-anchor="middle">EQE (%)</text>
<text transform="translate(291,304.6) rotate(-90)" font-family="'Liberation Serif',serif" font-size="14" text-anchor="middle">integrated Jsc mA*cm-2</text>
<text x="26.9" y="209.6" font-family="'Liberation Serif',serif" font-weight="bold" font-size="13.8">(c)</text>
<clipPath id="cc"><rect x="45.8" y="222.3" width="212.4" height="169.3"/></clipPath>
<g clip-path="url(#cc)">
<path d="M49.6,377.5 L53.5,377.4 L57.3,377.1 L61.1,376.8 L64.9,376.2 L68.8,375.5 L72.6,374.5 L76.4,373.4 L80.2,372.0 L84.1,370.5 L87.9,368.7 L91.7,366.7 L95.5,364.4 L99.4,361.9 L103.2,359.3 L107.0,356.4 L110.8,353.3 L114.7,350.0 L118.5,346.6 L122.3,343.1 L126.1,339.6 L130.0,336.0 L133.8,332.5 L137.6,329.0 L141.4,325.5 L145.3,322.0 L149.1,318.6 L152.9,315.1 L156.7,311.7 L160.6,308.3 L164.4,304.8 L168.2,301.4 L172.0,297.9 L175.9,294.4 L179.7,291.0 L183.5,287.5 L187.3,284.1 L191.2,280.8 L195.0,277.5 L198.8,274.3 L202.6,271.2 L206.5,268.0 L210.3,264.9 L214.1,261.8 L217.9,259.0 L221.8,257.3 L225.6,256.4 L229.4,255.8 L233.2,255.6 L237.1,255.5 L240.9,255.5 L244.7,255.5 L248.5,255.5 L252.4,255.5 L256.2,255.5" fill="none" stroke="#3030c0" stroke-width="0.55"/>
<circle cx="49.6" cy="377.5" r="1.6" fill="#2424e0"/>
<circle cx="53.5" cy="377.4" r="1.6" fill="#2424e0"/>
<circle cx="57.3" cy="377.1" r="1.6" fill="#2424e0"/>
<circle cx="61.1" cy="376.8" r="1.6" fill="#2424e0"/>
<circle cx="64.9" cy="376.2" r="1.6" fill="#2424e0"/>
<circle cx="68.8" cy="375.5" r="1.6" fill="#2424e0"/>
<circle cx="72.6" cy="374.5" r="1.6" fill="#2424e0"/>
<circle cx="76.4" cy="373.4" r="1.6" fill="#2424e0"/>
<circle cx="80.2" cy="372.0" r="1.6" fill="#2424e0"/>
<circle cx="84.1" cy="370.5" r="1.6" fill="#2424e0"/>
<circle cx="87.9" cy="368.7" r="1.6" fill="#2424e0"/>
<circle cx="91.7" cy="366.7" r="1.6" fill="#2424e0"/>
<circle cx="95.5" cy="364.4" r="1.6" fill="#2424e0"/>
<circle cx="99.4" cy="361.9" r="1.6" fill="#2424e0"/>
<circle cx="103.2" cy="359.3" r="1.6" fill="#2424e0"/>
<circle cx="107.0" cy="356.4" r="1.6" fill="#2424e0"/>
<circle cx="110.8" cy="353.3" r="1.6" fill="#2424e0"/>
<circle cx="114.7" cy="350.0" r="1.6" fill="#2424e0"/>
<circle cx="118.5" cy="346.6" r="1.6" fill="#2424e0"/>
<circle cx="122.3" cy="343.1" r="1.6" fill="#2424e0"/>
<circle cx="126.1" cy="339.6" r="1.6" fill="#2424e0"/>
<circle cx="130.0" cy="336.0" r="1.6" fill="#2424e0"/>
<circle cx="133.8" cy="332.5" r="1.6" fill="#2424e0"/>
<circle cx="137.6" cy="329.0" r="1.6" fill="#2424e0"/>
<circle cx="141.4" cy="325.5" r="1.6" fill="#2424e0"/>
<circle cx="145.3" cy="322.0" r="1.6" fill="#2424e0"/>
<circle cx="149.1" cy="318.6" r="1.6" fill="#2424e0"/>
<circle cx="152.9" cy="315.1" r="1.6" fill="#2424e0"/>
<circle cx="156.7" cy="311.7" r="1.6" fill="#2424e0"/>
<circle cx="160.6" cy="308.3" r="1.6" fill="#2424e0"/>
<circle cx="164.4" cy="304.8" r="1.6" fill="#2424e0"/>
<circle cx="168.2" cy="301.4" r="1.6" fill="#2424e0"/>
<circle cx="172.0" cy="297.9" r="1.6" fill="#2424e0"/>
<circle cx="175.9" cy="294.4" r="1.6" fill="#2424e0"/>
<circle cx="179.7" cy="291.0" r="1.6" fill="#2424e0"/>
<circle cx="183.5" cy="287.5" r="1.6" fill="#2424e0"/>
<circle cx="187.3" cy="284.1" r="1.6" fill="#2424e0"/>
<circle cx="191.2" cy="280.8" r="1.6" fill="#2424e0"/>
<circle cx="195.0" cy="277.5" r="1.6" fill="#2424e0"/>
<circle cx="198.8" cy="274.3" r="1.6" fill="#2424e0"/>
<circle cx="202.6" cy="271.2" r="1.6" fill="#2424e0"/>
<circle cx="206.5" cy="268.0" r="1.6" fill="#2424e0"/>
<circle cx="210.3" cy="264.9" r="1.6" fill="#2424e0"/>
<circle cx="214.1" cy="261.8" r="1.6" fill="#2424e0"/>
<circle cx="217.9" cy="259.0" r="1.6" fill="#2424e0"/>
<circle cx="221.8" cy="257.3" r="1.6" fill="#2424e0"/>
<circle cx="225.6" cy="256.4" r="1.6" fill="#2424e0"/>
<circle cx="229.4" cy="255.8" r="1.6" fill="#2424e0"/>
<circle cx="233.2" cy="255.6" r="1.6" fill="#2424e0"/>
<circle cx="237.1" cy="255.5" r="1.6" fill="#2424e0"/>
<circle cx="240.9" cy="255.5" r="1.6" fill="#2424e0"/>
<circle cx="244.7" cy="255.5" r="1.6" fill="#2424e0"/>
<circle cx="248.5" cy="255.5" r="1.6" fill="#2424e0"/>
<circle cx="252.4" cy="255.5" r="1.6" fill="#2424e0"/>
<circle cx="256.2" cy="255.5" r="1.6" fill="#2424e0"/>
<path d="M49.6,377.5 L53.5,377.4 L57.3,377.1 L61.1,376.6 L64.9,375.9 L68.8,375.0 L72.6,373.9 L76.4,372.6 L80.2,371.1 L84.1,369.4 L87.9,367.5 L91.7,365.3 L95.5,362.9 L99.4,360.2 L103.2,357.2 L107.0,353.9 L110.8,350.4 L114.7,346.6 L118.5,342.8 L122.3,338.9 L126.1,334.9 L130.0,330.9 L133.8,326.9 L137.6,323.0 L141.4,319.0 L145.3,315.1 L149.1,311.1 L152.9,307.2 L156.7,303.2 L160.6,299.3 L164.4,295.3 L168.2,291.4 L172.0,287.4 L175.9,283.5 L179.7,279.6 L183.5,275.8 L187.3,272.0 L191.2,268.2 L195.0,264.4 L198.8,260.7 L202.6,256.9 L206.5,253.1 L210.3,249.4 L214.1,245.6 L217.9,242.4 L221.8,240.5 L225.6,239.5 L229.4,238.9 L233.2,238.7 L237.1,238.6 L240.9,238.5 L244.7,238.5 L248.5,238.5 L252.4,238.5 L256.2,238.5" fill="none" stroke="#a02020" stroke-width="0.55"/>
<circle cx="49.6" cy="377.5" r="1.6" fill="#ee2222"/>
<circle cx="53.5" cy="377.4" r="1.6" fill="#ee2222"/>
<circle cx="57.3" cy="377.1" r="1.6" fill="#ee2222"/>
<circle cx="61.1" cy="376.6" r="1.6" fill="#ee2222"/>
<circle cx="64.9" cy="375.9" r="1.6" fill="#ee2222"/>
<circle cx="68.8" cy="375.0" r="1.6" fill="#ee2222"/>
<circle cx="72.6" cy="373.9" r="1.6" fill="#ee2222"/>
<circle cx="76.4" cy="372.6" r="1.6" fill="#ee2222"/>
<circle cx="80.2" cy="371.1" r="1.6" fill="#ee2222"/>
<circle cx="84.1" cy="369.4" r="1.6" fill="#ee2222"/>
<circle cx="87.9" cy="367.5" r="1.6" fill="#ee2222"/>
<circle cx="91.7" cy="365.3" r="1.6" fill="#ee2222"/>
<circle cx="95.5" cy="362.9" r="1.6" fill="#ee2222"/>
<circle cx="99.4" cy="360.2" r="1.6" fill="#ee2222"/>
<circle cx="103.2" cy="357.2" r="1.6" fill="#ee2222"/>
<circle cx="107.0" cy="353.9" r="1.6" fill="#ee2222"/>
<circle cx="110.8" cy="350.4" r="1.6" fill="#ee2222"/>
<circle cx="114.7" cy="346.6" r="1.6" fill="#ee2222"/>
<circle cx="118.5" cy="342.8" r="1.6" fill="#ee2222"/>
<circle cx="122.3" cy="338.9" r="1.6" fill="#ee2222"/>
<circle cx="126.1" cy="334.9" r="1.6" fill="#ee2222"/>
<circle cx="130.0" cy="330.9" r="1.6" fill="#ee2222"/>
<circle cx="133.8" cy="326.9" r="1.6" fill="#ee2222"/>
<circle cx="137.6" cy="323.0" r="1.6" fill="#ee2222"/>
<circle cx="141.4" cy="319.0" r="1.6" fill="#ee2222"/>
<circle cx="145.3" cy="315.1" r="1.6" fill="#ee2222"/>
<circle cx="149.1" cy="311.1" r="1.6" fill="#ee2222"/>
<circle cx="152.9" cy="307.2" r="1.6" fill="#ee2222"/>
<circle cx="156.7" cy="303.2" r="1.6" fill="#ee2222"/>
<circle cx="160.6" cy="299.3" r="1.6" fill="#ee2222"/>
<circle cx="164.4" cy="295.3" r="1.6" fill="#ee2222"/>
<circle cx="168.2" cy="291.4" r="1.6" fill="#ee2222"/>
<circle cx="172.0" cy="287.4" r="1.6" fill="#ee2222"/>
<circle cx="175.9" cy="283.5" r="1.6" fill="#ee2222"/>
<circle cx="179.7" cy="279.6" r="1.6" fill="#ee2222"/>
<circle cx="183.5" cy="275.8" r="1.6" fill="#ee2222"/>
<circle cx="187.3" cy="272.0" r="1.6" fill="#ee2222"/>
<circle cx="191.2" cy="268.2" r="1.6" fill="#ee2222"/>
<circle cx="195.0" cy="264.4" r="1.6" fill="#ee2222"/>
<circle cx="198.8" cy="260.7" r="1.6" fill="#ee2222"/>
<circle cx="202.6" cy="256.9" r="1.6" fill="#ee2222"/>
<circle cx="206.5" cy="253.1" r="1.6" fill="#ee2222"/>
<circle cx="210.3" cy="249.4" r="1.6" fill="#ee2222"/>
<circle cx="214.1" cy="245.6" r="1.6" fill="#ee2222"/>
<circle cx="217.9" cy="242.4" r="1.6" fill="#ee2222"/>
<circle cx="221.8" cy="240.5" r="1.6" fill="#ee2222"/>
<circle cx="225.6" cy="239.5" r="1.6" fill="#ee2222"/>
<circle cx="229.4" cy="238.9" r="1.6" fill="#ee2222"/>
<circle cx="233.2" cy="238.7" r="1.6" fill="#ee2222"/>
<circle cx="237.1" cy="238.6" r="1.6" fill="#ee2222"/>
<circle cx="240.9" cy="238.5" r="1.6" fill="#ee2222"/>
<circle cx="244.7" cy="238.5" r="1.6" fill="#ee2222"/>
<circle cx="248.5" cy="238.5" r="1.6" fill="#ee2222"/>
<circle cx="252.4" cy="238.5" r="1.6" fill="#ee2222"/>
<circle cx="256.2" cy="238.5" r="1.6" fill="#ee2222"/>
<path d="M49.6,377.5 L53.5,377.3 L57.3,377.0 L61.1,376.6 L64.9,375.9 L68.8,375.0 L72.6,373.9 L76.4,372.7 L80.2,371.2 L84.1,369.6 L87.9,367.7 L91.7,365.6 L95.5,363.3 L99.4,360.7 L103.2,357.8 L107.0,354.8 L110.8,351.4 L114.7,347.9 L118.5,344.3 L122.3,340.6 L126.1,336.9 L130.0,333.1 L133.8,329.3 L137.6,325.5 L141.4,321.7 L145.3,317.8 L149.1,314.0 L152.9,310.2 L156.7,306.4 L160.6,302.6 L164.4,298.7 L168.2,294.9 L172.0,291.0 L175.9,287.1 L179.7,283.3 L183.5,279.5 L187.3,275.6 L191.2,271.8 L195.0,268.1 L198.8,264.3 L202.6,260.5 L206.5,256.8 L210.3,253.1 L214.1,249.4 L217.9,246.2 L221.8,244.1 L225.6,243.1 L229.4,242.5 L233.2,242.2 L237.1,242.1 L240.9,242.1 L244.7,242.1 L248.5,242.1 L252.4,242.1 L256.2,242.1" fill="none" stroke="#222222" stroke-width="0.55"/>
<circle cx="49.6" cy="377.5" r="1.6" fill="#111111"/>
<circle cx="53.5" cy="377.3" r="1.6" fill="#111111"/>
<circle cx="57.3" cy="377.0" r="1.6" fill="#111111"/>
<circle cx="61.1" cy="376.6" r="1.6" fill="#111111"/>
<circle cx="64.9" cy="375.9" r="1.6" fill="#111111"/>
<circle cx="68.8" cy="375.0" r="1.6" fill="#111111"/>
<circle cx="72.6" cy="373.9" r="1.6" fill="#111111"/>
<circle cx="76.4" cy="372.7" r="1.6" fill="#111111"/>
<circle cx="80.2" cy="371.2" r="1.6" fill="#111111"/>
<circle cx="84.1" cy="369.6" r="1.6" fill="#111111"/>
<circle cx="87.9" cy="367.7" r="1.6" fill="#111111"/>
<circle cx="91.7" cy="365.6" r="1.6" fill="#111111"/>
<circle cx="95.5" cy="363.3" r="1.6" fill="#111111"/>
<circle cx="99.4" cy="360.7" r="1.6" fill="#111111"/>
<circle cx="103.2" cy="357.8" r="1.6" fill="#111111"/>
<circle cx="107.0" cy="354.8" r="1.6" fill="#111111"/>
<circle cx="110.8" cy="351.4" r="1.6" fill="#111111"/>
<circle cx="114.7" cy="347.9" r="1.6" fill="#111111"/>
<circle cx="118.5" cy="344.3" r="1.6" fill="#111111"/>
<circle cx="122.3" cy="340.6" r="1.6" fill="#111111"/>
<circle cx="126.1" cy="336.9" r="1.6" fill="#111111"/>
<circle cx="130.0" cy="333.1" r="1.6" fill="#111111"/>
<circle cx="133.8" cy="329.3" r="1.6" fill="#111111"/>
<circle cx="137.6" cy="325.5" r="1.6" fill="#111111"/>
<circle cx="141.4" cy="321.7" r="1.6" fill="#111111"/>
<circle cx="145.3" cy="317.8" r="1.6" fill="#111111"/>
<circle cx="149.1" cy="314.0" r="1.6" fill="#111111"/>
<circle cx="152.9" cy="310.2" r="1.6" fill="#111111"/>
<circle cx="156.7" cy="306.4" r="1.6" fill="#111111"/>
<circle cx="160.6" cy="302.6" r="1.6" fill="#111111"/>
<circle cx="164.4" cy="298.7" r="1.6" fill="#111111"/>
<circle cx="168.2" cy="294.9" r="1.6" fill="#111111"/>
<circle cx="172.0" cy="291.0" r="1.6" fill="#111111"/>
<circle cx="175.9" cy="287.1" r="1.6" fill="#111111"/>
<circle cx="179.7" cy="283.3" r="1.6" fill="#111111"/>
<circle cx="183.5" cy="279.5" r="1.6" fill="#111111"/>
<circle cx="187.3" cy="275.6" r="1.6" fill="#111111"/>
<circle cx="191.2" cy="271.8" r="1.6" fill="#111111"/>
<circle cx="195.0" cy="268.1" r="1.6" fill="#111111"/>
<circle cx="198.8" cy="264.3" r="1.6" fill="#111111"/>
<circle cx="202.6" cy="260.5" r="1.6" fill="#111111"/>
<circle cx="206.5" cy="256.8" r="1.6" fill="#111111"/>
<circle cx="210.3" cy="253.1" r="1.6" fill="#111111"/>
<circle cx="214.1" cy="249.4" r="1.6" fill="#111111"/>
<circle cx="217.9" cy="246.2" r="1.6" fill="#111111"/>
<circle cx="221.8" cy="244.1" r="1.6" fill="#111111"/>
<circle cx="225.6" cy="243.1" r="1.6" fill="#111111"/>
<circle cx="229.4" cy="242.5" r="1.6" fill="#111111"/>
<circle cx="233.2" cy="242.2" r="1.6" fill="#111111"/>
<circle cx="237.1" cy="242.1" r="1.6" fill="#111111"/>
<circle cx="240.9" cy="242.1" r="1.6" fill="#111111"/>
<circle cx="244.7" cy="242.1" r="1.6" fill="#111111"/>
<circle cx="248.5" cy="242.1" r="1.6" fill="#111111"/>
<circle cx="252.4" cy="242.1" r="1.6" fill="#111111"/>
<circle cx="256.2" cy="242.1" r="1.6" fill="#111111"/>
<path d="M45.8,391.6 L49.6,379.7 L53.5,354.8 L57.3,340.8 L61.1,323.1 L64.9,306.3 L68.8,291.3 L72.6,282.3 L76.4,275.8 L80.2,270.8 L84.1,267.4 L87.9,264.7 L91.7,263.2 L95.5,262.8 L99.4,263.3 L103.2,264.0 L107.0,264.4 L110.8,264.0 L114.7,261.8 L118.5,260.6 L122.3,259.9 L126.1,259.9 L130.0,261.0 L133.8,262.5 L137.6,264.0 L141.4,265.2 L145.3,266.2 L149.1,267.4 L152.9,268.6 L156.7,269.6 L160.6,270.5 L164.4,271.4 L168.2,272.4 L172.0,273.2 L175.9,274.2 L179.7,276.0 L183.5,277.5 L187.3,280.0 L191.2,283.1 L195.0,287.4 L198.8,289.4 L202.6,290.4 L206.5,290.8 L210.3,290.8 L214.1,291.1 L217.9,293.0 L221.8,309.8 L225.6,323.5 L229.4,354.1 L233.2,378.0 L237.1,388.2 L240.9,390.7 L244.7,391.1 L248.5,391.1 L252.4,391.1 L256.2,391.1" fill="none" stroke="#3030c0" stroke-width="0.55"/>
<circle cx="45.8" cy="391.6" r="1.6" fill="#2424e0"/>
<circle cx="49.6" cy="379.7" r="1.6" fill="#2424e0"/>
<circle cx="53.5" cy="354.8" r="1.6" fill="#2424e0"/>
<circle cx="57.3" cy="340.8" r="1.6" fill="#2424e0"/>
<circle cx="61.1" cy="323.1" r="1.6" fill="#2424e0"/>
<circle cx="64.9" cy="306.3" r="1.6" fill="#2424e0"/>
<circle cx="68.8" cy="291.3" r="1.6" fill="#2424e0"/>
<circle cx="72.6" cy="282.3" r="1.6" fill="#2424e0"/>
<circle cx="76.4" cy="275.8" r="1.6" fill="#2424e0"/>
<circle cx="80.2" cy="270.8" r="1.6" fill="#2424e0"/>
<circle cx="84.1" cy="267.4" r="1.6" fill="#2424e0"/>
<circle cx="87.9" cy="264.7" r="1.6" fill="#2424e0"/>
<circle cx="91.7" cy="263.2" r="1.6" fill="#2424e0"/>
<circle cx="95.5" cy="262.8" r="1.6" fill="#2424e0"/>
<circle cx="99.4" cy="263.3" r="1.6" fill="#2424e0"/>
<circle cx="103.2" cy="264.0" r="1.6" fill="#2424e0"/>
<circle cx="107.0" cy="264.4" r="1.6" fill="#2424e0"/>
<circle cx="110.8" cy="264.0" r="1.6" fill="#2424e0"/>
<circle cx="114.7" cy="261.8" r="1.6" fill="#2424e0"/>
<circle cx="118.5" cy="260.6" r="1.6" fill="#2424e0"/>
<circle cx="122.3" cy="259.9" r="1.6" fill="#2424e0"/>
<circle cx="126.1" cy="259.9" r="1.6" fill="#2424e0"/>
<circle cx="130.0" cy="261.0" r="1.6" fill="#2424e0"/>
<circle cx="133.8" cy="262.5" r="1.6" fill="#2424e0"/>
<circle cx="137.6" cy="264.0" r="1.6" fill="#2424e0"/>
<circle cx="141.4" cy="265.2" r="1.6" fill="#2424e0"/>
<circle cx="145.3" cy="266.2" r="1.6" fill="#2424e0"/>
<circle cx="149.1" cy="267.4" r="1.6" fill="#2424e0"/>
<circle cx="152.9" cy="268.6" r="1.6" fill="#2424e0"/>
<circle cx="156.7" cy="269.6" r="1.6" fill="#2424e0"/>
<circle cx="160.6" cy="270.5" r="1.6" fill="#2424e0"/>
<circle cx="164.4" cy="271.4" r="1.6" fill="#2424e0"/>
<circle cx="168.2" cy="272.4" r="1.6" fill="#2424e0"/>
<circle cx="172.0" cy="273.2" r="1.6" fill="#2424e0"/>
<circle cx="175.9" cy="274.2" r="1.6" fill="#2424e0"/>
<circle cx="179.7" cy="276.0" r="1.6" fill="#2424e0"/>
<circle cx="183.5" cy="277.5" r="1.6" fill="#2424e0"/>
<circle cx="187.3" cy="280.0" r="1.6" fill="#2424e0"/>
<circle cx="191.2" cy="283.1" r="1.6" fill="#2424e0"/>
<circle cx="195.0" cy="287.4" r="1.6" fill="#2424e0"/>
<circle cx="198.8" cy="289.4" r="1.6" fill="#2424e0"/>
<circle cx="202.6" cy="290.4" r="1.6" fill="#2424e0"/>
<circle cx="206.5" cy="290.8" r="1.6" fill="#2424e0"/>
<circle cx="210.3" cy="290.8" r="1.6" fill="#2424e0"/>
<circle cx="214.1" cy="291.1" r="1.6" fill="#2424e0"/>
<circle cx="217.9" cy="293.0" r="1.6" fill="#2424e0"/>
<circle cx="221.8" cy="309.8" r="1.6" fill="#2424e0"/>
<circle cx="225.6" cy="323.5" r="1.6" fill="#2424e0"/>
<circle cx="229.4" cy="354.1" r="1.6" fill="#2424e0"/>
<circle cx="233.2" cy="378.0" r="1.6" fill="#2424e0"/>
<circle cx="237.1" cy="388.2" r="1.6" fill="#2424e0"/>
<circle cx="240.9" cy="390.7" r="1.6" fill="#2424e0"/>
<circle cx="244.7" cy="391.1" r="1.6" fill="#2424e0"/>
<circle cx="248.5" cy="391.1" r="1.6" fill="#2424e0"/>
<circle cx="252.4" cy="391.1" r="1.6" fill="#2424e0"/>
<circle cx="256.2" cy="391.1" r="1.6" fill="#2424e0"/>
<path d="M45.8,391.6 L49.6,379.7 L53.5,350.7 L57.3,320.9 L61.1,303.0 L64.9,285.5 L68.8,274.1 L72.6,267.9 L76.4,263.2 L80.2,258.9 L84.1,257.2 L87.9,255.9 L91.7,253.0 L95.5,249.7 L99.4,248.4 L103.2,247.5 L107.0,246.7 L110.8,245.6 L114.7,244.6 L118.5,244.1 L122.3,243.8 L126.1,243.6 L130.0,244.3 L133.8,245.8 L137.6,247.0 L141.4,247.8 L145.3,248.5 L149.1,249.2 L152.9,250.1 L156.7,250.9 L160.6,252.6 L164.4,253.6 L168.2,255.0 L172.0,257.0 L175.9,259.1 L179.7,261.6 L183.5,264.7 L187.3,267.3 L191.2,268.5 L195.0,269.3 L198.8,269.8 L202.6,270.2 L206.5,269.8 L210.3,270.3 L214.1,272.4 L217.9,276.6 L221.8,303.0 L225.6,320.1 L229.4,350.7 L233.2,378.0 L237.1,387.3 L240.9,390.7 L244.7,391.1 L248.5,391.1 L252.4,391.1 L256.2,391.1" fill="none" stroke="#a02020" stroke-width="0.55"/>
<circle cx="45.8" cy="391.6" r="1.6" fill="#ee2222"/>
<circle cx="49.6" cy="379.7" r="1.6" fill="#ee2222"/>
<circle cx="53.5" cy="350.7" r="1.6" fill="#ee2222"/>
<circle cx="57.3" cy="320.9" r="1.6" fill="#ee2222"/>
<circle cx="61.1" cy="303.0" r="1.6" fill="#ee2222"/>
<circle cx="64.9" cy="285.5" r="1.6" fill="#ee2222"/>
<circle cx="68.8" cy="274.1" r="1.6" fill="#ee2222"/>
<circle cx="72.6" cy="267.9" r="1.6" fill="#ee2222"/>
<circle cx="76.4" cy="263.2" r="1.6" fill="#ee2222"/>
<circle cx="80.2" cy="258.9" r="1.6" fill="#ee2222"/>
<circle cx="84.1" cy="257.2" r="1.6" fill="#ee2222"/>
<circle cx="87.9" cy="255.9" r="1.6" fill="#ee2222"/>
<circle cx="91.7" cy="253.0" r="1.6" fill="#ee2222"/>
<circle cx="95.5" cy="249.7" r="1.6" fill="#ee2222"/>
<circle cx="99.4" cy="248.4" r="1.6" fill="#ee2222"/>
<circle cx="103.2" cy="247.5" r="1.6" fill="#ee2222"/>
<circle cx="107.0" cy="246.7" r="1.6" fill="#ee2222"/>
<circle cx="110.8" cy="245.6" r="1.6" fill="#ee2222"/>
<circle cx="114.7" cy="244.6" r="1.6" fill="#ee2222"/>
<circle cx="118.5" cy="244.1" r="1.6" fill="#ee2222"/>
<circle cx="122.3" cy="243.8" r="1.6" fill="#ee2222"/>
<circle cx="126.1" cy="243.6" r="1.6" fill="#ee2222"/>
<circle cx="130.0" cy="244.3" r="1.6" fill="#ee2222"/>
<circle cx="133.8" cy="245.8" r="1.6" fill="#ee2222"/>
<circle cx="137.6" cy="247.0" r="1.6" fill="#ee2222"/>
<circle cx="141.4" cy="247.8" r="1.6" fill="#ee2222"/>
<circle cx="145.3" cy="248.5" r="1.6" fill="#ee2222"/>
<circle cx="149.1" cy="249.2" r="1.6" fill="#ee2222"/>
<circle cx="152.9" cy="250.1" r="1.6" fill="#ee2222"/>
<circle cx="156.7" cy="250.9" r="1.6" fill="#ee2222"/>
<circle cx="160.6" cy="252.6" r="1.6" fill="#ee2222"/>
<circle cx="164.4" cy="253.6" r="1.6" fill="#ee2222"/>
<circle cx="168.2" cy="255.0" r="1.6" fill="#ee2222"/>
<circle cx="172.0" cy="257.0" r="1.6" fill="#ee2222"/>
<circle cx="175.9" cy="259.1" r="1.6" fill="#ee2222"/>
<circle cx="179.7" cy="261.6" r="1.6" fill="#ee2222"/>
<circle cx="183.5" cy="264.7" r="1.6" fill="#ee2222"/>
<circle cx="187.3" cy="267.3" r="1.6" fill="#ee2222"/>
<circle cx="191.2" cy="268.5" r="1.6" fill="#ee2222"/>
<circle cx="195.0" cy="269.3" r="1.6" fill="#ee2222"/>
<circle cx="198.8" cy="269.8" r="1.6" fill="#ee2222"/>
<circle cx="202.6" cy="270.2" r="1.6" fill="#ee2222"/>
<circle cx="206.5" cy="269.8" r="1.6" fill="#ee2222"/>
<circle cx="210.3" cy="270.3" r="1.6" fill="#ee2222"/>
<circle cx="214.1" cy="272.4" r="1.6" fill="#ee2222"/>
<circle cx="217.9" cy="276.6" r="1.6" fill="#ee2222"/>
<circle cx="221.8" cy="303.0" r="1.6" fill="#ee2222"/>
<circle cx="225.6" cy="320.1" r="1.6" fill="#ee2222"/>
<circle cx="229.4" cy="350.7" r="1.6" fill="#ee2222"/>
<circle cx="233.2" cy="378.0" r="1.6" fill="#ee2222"/>
<circle cx="237.1" cy="387.3" r="1.6" fill="#ee2222"/>
<circle cx="240.9" cy="390.7" r="1.6" fill="#ee2222"/>
<circle cx="244.7" cy="391.1" r="1.6" fill="#ee2222"/>
<circle cx="248.5" cy="391.1" r="1.6" fill="#ee2222"/>
<circle cx="252.4" cy="391.1" r="1.6" fill="#ee2222"/>
<circle cx="256.2" cy="391.1" r="1.6" fill="#ee2222"/>
<path d="M45.8,391.6 L49.6,377.1 L53.5,347.0 L57.3,324.3 L61.1,305.4 L64.9,287.9 L68.8,277.7 L72.6,272.5 L76.4,268.6 L80.2,265.1 L84.1,261.8 L87.9,259.1 L91.7,258.1 L95.5,257.7 L99.4,257.4 L103.2,257.0 L107.0,256.4 L110.8,255.3 L114.7,254.5 L118.5,253.6 L122.3,253.0 L126.1,252.6 L130.0,252.8 L133.8,253.1 L137.6,253.8 L141.4,254.5 L145.3,255.0 L149.1,255.3 L152.9,256.2 L156.7,257.0 L160.6,257.4 L164.4,258.1 L168.2,259.4 L172.0,261.0 L175.9,262.3 L179.7,263.7 L183.5,265.1 L187.3,267.3 L191.2,269.3 L195.0,270.0 L198.8,270.3 L202.6,271.4 L206.5,272.4 L210.3,273.6 L214.1,274.9 L217.9,277.3 L221.8,292.3 L225.6,318.4 L229.4,350.7 L233.2,376.3 L237.1,386.5 L240.9,390.6 L244.7,391.1 L248.5,391.1 L252.4,391.1 L256.2,391.1" fill="none" stroke="#222222" stroke-width="0.55"/>
<circle cx="45.8" cy="391.6" r="1.6" fill="#111111"/>
<circle cx="49.6" cy="377.1" r="1.6" fill="#111111"/>
<circle cx="53.5" cy="347.0" r="1.6" fill="#111111"/>
<circle cx="57.3" cy="324.3" r="1.6" fill="#111111"/>
<circle cx="61.1" cy="305.4" r="1.6" fill="#111111"/>
<circle cx="64.9" cy="287.9" r="1.6" fill="#111111"/>
<circle cx="68.8" cy="277.7" r="1.6" fill="#111111"/>
<circle cx="72.6" cy="272.5" r="1.6" fill="#111111"/>
<circle cx="76.4" cy="268.6" r="1.6" fill="#111111"/>
<circle cx="80.2" cy="265.1" r="1.6" fill="#111111"/>
<circle cx="84.1" cy="261.8" r="1.6" fill="#111111"/>
<circle cx="87.9" cy="259.1" r="1.6" fill="#111111"/>
<circle cx="91.7" cy="258.1" r="1.6" fill="#111111"/>
<circle cx="95.5" cy="257.7" r="1.6" fill="#111111"/>
<circle cx="99.4" cy="257.4" r="1.6" fill="#111111"/>
<circle cx="103.2" cy="257.0" r="1.6" fill="#111111"/>
<circle cx="107.0" cy="256.4" r="1.6" fill="#111111"/>
<circle cx="110.8" cy="255.3" r="1.6" fill="#111111"/>
<circle cx="114.7" cy="254.5" r="1.6" fill="#111111"/>
<circle cx="118.5" cy="253.6" r="1.6" fill="#111111"/>
<circle cx="122.3" cy="253.0" r="1.6" fill="#111111"/>
<circle cx="126.1" cy="252.6" r="1.6" fill="#111111"/>
<circle cx="130.0" cy="252.8" r="1.6" fill="#111111"/>
<circle cx="133.8" cy="253.1" r="1.6" fill="#111111"/>
<circle cx="137.6" cy="253.8" r="1.6" fill="#111111"/>
<circle cx="141.4" cy="254.5" r="1.6" fill="#111111"/>
<circle cx="145.3" cy="255.0" r="1.6" fill="#111111"/>
<circle cx="149.1" cy="255.3" r="1.6" fill="#111111"/>
<circle cx="152.9" cy="256.2" r="1.6" fill="#111111"/>
<circle cx="156.7" cy="257.0" r="1.6" fill="#111111"/>
<circle cx="160.6" cy="257.4" r="1.6" fill="#111111"/>
<circle cx="164.4" cy="258.1" r="1.6" fill="#111111"/>
<circle cx="168.2" cy="259.4" r="1.6" fill="#111111"/>
<circle cx="172.0" cy="261.0" r="1.6" fill="#111111"/>
<circle cx="175.9" cy="262.3" r="1.6" fill="#111111"/>
<circle cx="179.7" cy="263.7" r="1.6" fill="#111111"/>
<circle cx="183.5" cy="265.1" r="1.6" fill="#111111"/>
<circle cx="187.3" cy="267.3" r="1.6" fill="#111111"/>
<circle cx="191.2" cy="269.3" r="1.6" fill="#111111"/>
<circle cx="195.0" cy="270.0" r="1.6" fill="#111111"/>
<circle cx="198.8" cy="270.3" r="1.6" fill="#111111"/>
<circle cx="202.6" cy="271.4" r="1.6" fill="#111111"/>
<circle cx="206.5" cy="272.4" r="1.6" fill="#111111"/>
<circle cx="210.3" cy="273.6" r="1.6" fill="#111111"/>
<circle cx="214.1" cy="274.9" r="1.6" fill="#111111"/>
<circle cx="217.9" cy="277.3" r="1.6" fill="#111111"/>
<circle cx="221.8" cy="292.3" r="1.6" fill="#111111"/>
<circle cx="225.6" cy="318.4" r="1.6" fill="#111111"/>
<circle cx="229.4" cy="350.7" r="1.6" fill="#111111"/>
<circle cx="233.2" cy="376.3" r="1.6" fill="#111111"/>
<circle cx="237.1" cy="386.5" r="1.6" fill="#111111"/>
<circle cx="240.9" cy="390.6" r="1.6" fill="#111111"/>
<circle cx="244.7" cy="391.1" r="1.6" fill="#111111"/>
<circle cx="248.5" cy="391.1" r="1.6" fill="#111111"/>
<circle cx="252.4" cy="391.1" r="1.6" fill="#111111"/>
<circle cx="256.2" cy="391.1" r="1.6" fill="#111111"/>
</g>
<line x1="222.5" y1="323" x2="222.5" y2="355.7" stroke="#999" stroke-width="0.8"/>
<line x1="168.7" y1="329.0" x2="181.1" y2="329.0" stroke="#8888cc" stroke-width="0.8"/>
<circle cx="175" cy="329.0" r="1.6" fill="#2424e0"/>
<text transform="translate(182.50,332.20) scale(1,1.100)" font-family="'Liberation Serif',serif" font-size="8.90" text-anchor="start" font-weight="bold">0 wt.%</text>
<line x1="168.7" y1="339.8" x2="181.1" y2="339.8" stroke="#d06060" stroke-width="0.8"/>
<circle cx="175" cy="339.8" r="1.6" fill="#ee2222"/>
<text transform="translate(182.50,343.00) scale(1,1.100)" font-family="'Liberation Serif',serif" font-size="8.90" text-anchor="start" font-weight="bold">0.03 wt.%</text>
<line x1="168.7" y1="350.2" x2="181.1" y2="350.2" stroke="#333" stroke-width="0.8"/>
<circle cx="175" cy="350.2" r="1.6" fill="#111111"/>
<text transform="translate(182.50,353.40) scale(1,1.100)" font-family="'Liberation Serif',serif" font-size="8.90" text-anchor="start" font-weight="bold">0.05 wt.%</text>
<rect x="331.2" y="222.6" width="209.2" height="169.3" fill="none" stroke="#222" stroke-width="1.4"/>
<line x1="331.2" y1="391.9" x2="331.2" y2="394.9" stroke="#222" stroke-width="1.2"/>
<line x1="352.1" y1="391.9" x2="352.1" y2="393.5" stroke="#222" stroke-width="1.2"/>
<line x1="373.0" y1="391.9" x2="373.0" y2="394.9" stroke="#222" stroke-width="1.2"/>
<line x1="394.0" y1="391.9" x2="394.0" y2="393.5" stroke="#222" stroke-width="1.2"/>
<line x1="414.9" y1="391.9" x2="414.9" y2="394.9" stroke="#222" stroke-width="1.2"/>
<line x1="435.8" y1="391.9" x2="435.8" y2="393.5" stroke="#222" stroke-width="1.2"/>
<line x1="456.7" y1="391.9" x2="456.7" y2="394.9" stroke="#222" stroke-width="1.2"/>
<line x1="477.6" y1="391.9" x2="477.6" y2="393.5" stroke="#222" stroke-width="1.2"/>
<line x1="498.6" y1="391.9" x2="498.6" y2="394.9" stroke="#222" stroke-width="1.2"/>
<line x1="519.5" y1="391.9" x2="519.5" y2="393.5" stroke="#222" stroke-width="1.2"/>
<line x1="540.4" y1="391.9" x2="540.4" y2="394.9" stroke="#222" stroke-width="1.2"/>
<line x1="331.2" y1="391.9" x2="328.2" y2="391.9" stroke="#222" stroke-width="1.2"/>
<line x1="331.2" y1="363.7" x2="329.6" y2="363.7" stroke="#222" stroke-width="1.2"/>
<line x1="331.2" y1="335.5" x2="328.2" y2="335.5" stroke="#222" stroke-width="1.2"/>
<line x1="331.2" y1="307.2" x2="329.6" y2="307.2" stroke="#222" stroke-width="1.2"/>
<line x1="331.2" y1="279.0" x2="328.2" y2="279.0" stroke="#222" stroke-width="1.2"/>
<line x1="331.2" y1="250.8" x2="329.6" y2="250.8" stroke="#222" stroke-width="1.2"/>
<line x1="331.2" y1="222.6" x2="328.2" y2="222.6" stroke="#222" stroke-width="1.2"/>
<text transform="translate(331.20,408.70) scale(1,1.120)" font-family="'Liberation Serif',serif" font-size="13.50" text-anchor="middle" >15</text>
<text transform="translate(373.04,408.70) scale(1,1.120)" font-family="'Liberation Serif',serif" font-size="13.50" text-anchor="middle" >16</text>
<text transform="translate(414.88,408.70) scale(1,1.120)" font-family="'Liberation Serif',serif" font-size="13.50" text-anchor="middle" >17</text>
<text transform="translate(456.72,408.70) scale(1,1.120)" font-family="'Liberation Serif',serif" font-size="13.50" text-anchor="middle" >18</text>
<text transform="translate(498.56,408.70) scale(1,1.120)" font-family="'Liberation Serif',serif" font-size="13.50" text-anchor="middle" >19</text>
<text transform="translate(540.40,408.70) scale(1,1.120)" font-family="'Liberation Serif',serif" font-size="13.50" text-anchor="middle" >20</text>
<text transform="translate(325.50,396.80) scale(1,1.120)" font-family="'Liberation Serif',serif" font-size="13.50" text-anchor="end" >0</text>
<text transform="translate(325.50,340.37) scale(1,1.120)" font-family="'Liberation Serif',serif" font-size="13.50" text-anchor="end" >1</text>
<text transform="translate(325.50,283.93) scale(1,1.120)" font-family="'Liberation Serif',serif" font-size="13.50" text-anchor="end" >2</text>
<text transform="translate(325.50,227.50) scale(1,1.120)" font-family="'Liberation Serif',serif" font-size="13.50" text-anchor="end" >3</text>
<text x="435.5" y="424.4" font-family="'Liberation Serif',serif" font-size="14" text-anchor="middle">Binding Energy (eV)</text>
<text transform="translate(312,309.5) rotate(-90)" font-family="'Liberation Serif',serif" font-size="14" text-anchor="middle">Counts (CPS)</text>
<text x="299" y="214.6" font-family="'Liberation Serif',serif" font-weight="bold" font-size="14">(d)</text>
<clipPath id="cd"><rect x="331.2" y="222.6" width="209.2" height="169.3"/></clipPath>
<g clip-path="url(#cd)" fill="none">
<path d="M332.0,222.6 L332.9,226.6 L334.1,232.1 L335.5,238.5 L337.1,245.6 L338.7,253.2 L340.4,260.7 L342.0,267.9 L343.5,274.4 L345.0,280.6 L346.5,287.1 L348.1,293.5 L349.6,299.8 L351.1,305.7 L352.4,311.2 L353.6,316.0 L354.6,320.0 L355.3,323.0 L355.8,325.1 L356.2,326.4 L356.4,327.3 L356.5,328.0 L356.7,328.6 L356.9,329.3 L357.2,330.5 L357.6,332.0 L358.0,333.5 L358.4,335.0 L358.9,336.6 L359.3,338.2 L359.8,339.7 L360.3,341.2 L360.7,342.7 L361.1,344.1 L361.6,345.5 L362.0,346.8 L362.4,348.1 L362.9,349.4 L363.3,350.7 L363.8,351.9 L364.2,353.1 L364.6,354.3 L365.1,355.5 L365.5,356.7 L365.9,357.9 L366.4,359.0 L366.8,360.1 L367.3,361.0 L367.7,361.9 L368.1,362.7 L368.6,363.3 L369.0,363.9 L369.4,364.4 L369.8,364.8 L370.3,365.3 L370.7,365.7 L371.2,366.2 L371.7,366.7 L372.2,367.1 L372.7,367.6 L373.2,368.0 L373.8,368.4 L374.3,368.8 L374.9,369.3 L375.5,369.7 L376.1,370.1 L376.8,370.5 L377.5,370.9 L378.1,371.3 L378.8,371.8 L379.5,372.2 L380.2,372.7 L380.8,373.2 L381.4,373.8 L381.9,374.4 L382.4,375.0 L383.0,375.7 L383.5,376.4 L384.0,377.1 L384.5,377.8 L385.1,378.4 L385.7,379.0 L386.4,379.7 L387.0,380.3 L387.7,381.0 L388.4,381.6 L389.1,382.1 L389.7,382.6 L390.4,383.1 L391.0,383.5 L391.6,383.8 L392.2,384.1 L392.7,384.3 L393.3,384.5 L394.0,384.7 L394.7,384.9 L395.6,385.0 L396.2,385.1 L396.4,385.2 L396.4,385.3 L396.6,385.3 L397.2,385.3 L398.6,385.3 L401.1,385.4 L405.0,385.4 L410.4,385.4 L417.2,385.5 L425.1,385.5 L433.7,385.6 L442.8,385.6 L452.1,385.6 L461.3,385.7 L470.0,385.7 L479.0,385.7 L488.8,385.8 L499.0,385.8 L509.1,385.8 L518.7,385.8 L527.3,385.9 L534.6,385.9 L540.0,385.9" stroke="#2a2ab8" stroke-width="1.3"/>
<path d="M335.6,222.6 L336.3,226.6 L337.2,232.1 L338.3,238.5 L339.5,245.6 L340.7,253.2 L342.0,260.7 L343.2,267.9 L344.3,274.4 L345.4,280.6 L346.4,286.9 L347.5,293.2 L348.6,299.4 L349.6,305.2 L350.5,310.7 L351.3,315.7 L352.0,320.0 L352.5,323.5 L352.8,326.4 L353.0,328.7 L353.2,330.7 L353.3,332.4 L353.4,333.9 L353.5,335.6 L353.7,337.4 L354.0,339.3 L354.3,341.2 L354.6,343.1 L354.9,344.8 L355.2,346.6 L355.6,348.2 L355.9,349.8 L356.3,351.4 L356.7,352.9 L357.1,354.3 L357.5,355.7 L358.0,357.0 L358.4,358.2 L358.9,359.5 L359.4,360.7 L359.8,361.9 L360.2,363.1 L360.7,364.3 L361.2,365.5 L361.6,366.7 L362.1,367.8 L362.5,368.8 L362.9,369.8 L363.3,370.6 L363.6,371.3 L363.9,371.9 L364.2,372.4 L364.5,372.8 L364.8,373.1 L365.1,373.5 L365.5,373.8 L365.9,374.1 L366.4,374.4 L367.0,374.6 L367.7,374.9 L368.3,375.1 L369.0,375.2 L369.8,375.4 L370.5,375.6 L371.2,375.8 L371.9,376.0 L372.7,376.2 L373.5,376.4 L374.3,376.6 L375.0,376.9 L375.8,377.1 L376.6,377.3 L377.3,377.6 L378.0,377.9 L378.7,378.2 L379.4,378.5 L380.0,378.8 L380.6,379.1 L381.3,379.5 L381.9,379.8 L382.5,380.2 L383.1,380.6 L383.7,381.0 L384.2,381.5 L384.8,381.9 L385.3,382.4 L385.8,382.9 L386.4,383.3 L386.9,383.7 L387.4,384.1 L387.9,384.4 L388.4,384.8 L388.9,385.1 L389.5,385.4 L390.0,385.7 L390.6,386.0 L391.2,386.3 L391.9,386.6 L392.6,386.8 L393.3,387.0 L394.0,387.2 L394.8,387.4 L395.6,387.6 L396.4,387.8 L397.3,387.9 L397.8,388.0 L397.8,388.1 L397.6,388.1 L397.5,388.2 L397.8,388.2 L399.0,388.2 L401.3,388.3 L405.0,388.3 L410.3,388.4 L417.1,388.4 L425.0,388.5 L433.6,388.6 L442.7,388.6 L452.1,388.7 L461.2,388.8 L470.0,388.8 L479.0,388.8 L488.8,388.9 L499.0,388.9 L509.1,388.9 L518.7,389.0 L527.3,389.0 L534.6,389.0 L540.0,389.0" stroke="#e24a4a" stroke-width="1.3"/>
</g>
<line x1="360.5" y1="364" x2="366.8" y2="391.5" stroke="#e24a4a" stroke-width="1.3" stroke-dasharray="1.3 0.9"/>
<line x1="371" y1="366" x2="380.8" y2="391.5" stroke="#2a2ab8" stroke-width="1.3" stroke-dasharray="1.3 0.9"/>
<line x1="344.5" y1="369.1" x2="362.5" y2="386.5" stroke="#ee1c24" stroke-width="1.8"/>
<polygon points="367.3,391 358.5,387.5 363.5,382.5" fill="#ee1c24"/>
<line x1="395.5" y1="371" x2="386" y2="386" stroke="#1479b8" stroke-width="1.8"/>
<polygon points="382.7,390.5 383,382.5 389,385.5" fill="#1479b8"/>
<text x="332.7" y="368.3" font-family="'Liberation Serif',serif" font-weight="bold" font-size="9" fill="#dc3030" textLength="26.4" lengthAdjust="spacingAndGlyphs">15.86e<tspan font-style="italic">V</tspan></text>
<rect x="389.5" y="356.7" width="37.5" height="14.2" fill="#fff" stroke="#84b4bf" stroke-width="1.2"/>
<text x="394.5" y="367" font-family="'Liberation Serif',serif" font-weight="bold" font-size="8.6" fill="#15709f" textLength="27.3" lengthAdjust="spacingAndGlyphs">16.18eV</text>
<line x1="465" y1="232" x2="481" y2="232" stroke="#1a6dbf" stroke-width="2.4"/>
<line x1="465" y1="246.6" x2="481" y2="246.6" stroke="#e8202a" stroke-width="2.4"/>
<text transform="translate(485.20,236.20) scale(1,1.050)" font-family="'Liberation Serif',serif" font-size="11.80" text-anchor="start" font-weight="bold">0 wt.%</text>
<text transform="translate(485.20,250.80) scale(1,1.050)" font-family="'Liberation Serif',serif" font-size="11.80" text-anchor="start" font-weight="bold">0.03 wt.%</text>
</svg>
</body></html>
